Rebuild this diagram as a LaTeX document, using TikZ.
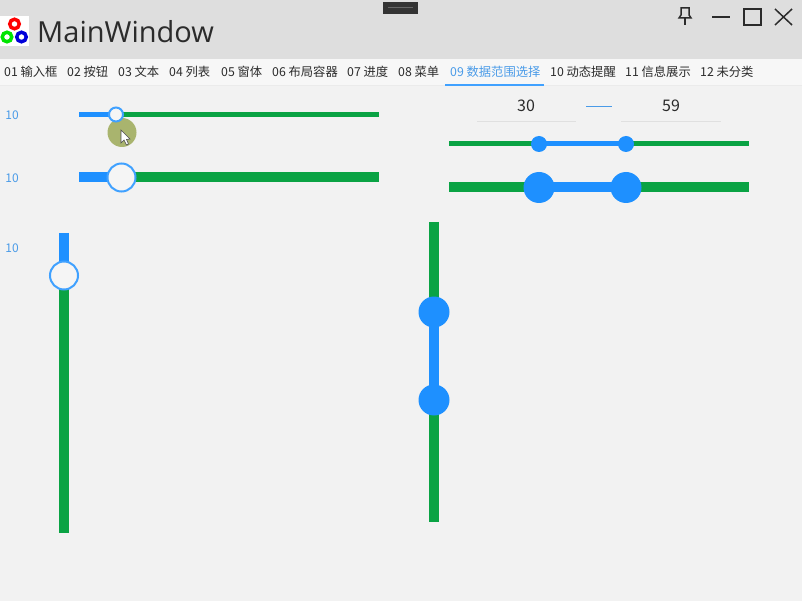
\documentclass[tikz,border=0pt]{standalone}
\usepackage{fontspec}
\setmainfont{Noto Sans CJK SC}
\newfontfamily\titlefont{Open Sans}
\pgfdeclarelayer{knobs}
\pgfsetlayers{main,knobs}
\definecolor{sliderblue}{HTML}{1E90FF}
\definecolor{slidergreen}{HTML}{0AA344}
\definecolor{labelblue}{HTML}{4A9BE8}
\definecolor{inktext}{HTML}{2B2B2B}
\definecolor{pointerglow}{HTML}{A9B46E}
\tikzset{
    tab/.style={anchor=west,inner sep=0pt,font=\fontsize{12.3}{12.3}\selectfont,text=inktext},
    tabactive/.style={tab,text=labelblue},
    valuelabel/.style={inner sep=0pt,font=\fontsize{12}{12}\selectfont,text=labelblue},
    numbertext/.style={inner sep=0pt,font=\fontsize{16}{16}\selectfont,text=inktext},
    bluetrack/.style={draw=sliderblue,line cap=butt},
    greentrack/.style={draw=slidergreen,line cap=butt},
    knobsmall/.style={circle,draw=sliderblue!85!white,fill=black!4,line width=2pt,inner sep=0pt,outer sep=0pt,minimum size=14pt},
    knobbig/.style={circle,draw=sliderblue!85!white,fill=black!4,line width=2pt,inner sep=0pt,outer sep=0pt,minimum size=28pt},
    dotsmall/.style={circle,fill=sliderblue,inner sep=0pt,outer sep=0pt,minimum size=16pt},
    dotbig/.style={circle,fill=sliderblue,inner sep=0pt,outer sep=0pt,minimum size=31pt},
    icon/.style={line width=1.5pt,draw=inktext},
    ring/.style={circle,draw,line width=3.5pt,inner sep=0pt,minimum size=9.5pt}
}
\begin{document}
\begin{tikzpicture}[x=1pt,y=-1pt]
    \useasboundingbox (0,0) rectangle (802,601);
    % window bands
    \fill[black!5] (0,0) rectangle (802,601);
    \fill[black!13] (0,0) rectangle (802,59);
    \fill[black!3] (0,59) rectangle (802,85);
    \draw[black!8] (0,85.5) -- (802,85.5);
    \fill[black!80] (383,2) rectangle (418,14);
    \draw[black!60,line width=1pt] (388,8) -- (413,8);

    % logo
    \fill[white] (0,16) rectangle (29,46);
    \node[ring,draw=red] (ringred) at (14.5,24) {};
    \node[ring,draw=green!90!black] (ringgreen) at (7,37) {};
    \node[ring,draw=blue!85!black] (ringblue) at (21.5,37) {};

    \node[anchor=west,inner sep=0pt,font=\titlefont\fontsize{29}{30}\selectfont,text=inktext] (title) at (37,32) {MainWindow};

    % title bar buttons
    \draw[icon] (681,8) -- (689,8) -- (689,15) -- (691,18) -- (679,18) -- (681,15) -- cycle;
    \draw[icon] (685,18) -- (685,25);
    \draw[icon] (712,17) -- (730,17);
    \draw[icon] (744,9) rectangle (761,25);
    \draw[icon] (775,9) -- (792,25);
    \draw[icon] (792,9) -- (775,25);

    % tabs
    \node[tab] (taba) at (4,72) {01 输入框};
    \node[tab] (tabb) at (67,72) {02 按钮};
    \node[tab] (tabc) at (118,72) {03 文本};
    \node[tab] (tabd) at (169,72) {04 列表};
    \node[tab] (tabe) at (221,72) {05 窗体};
    \node[tab] (tabf) at (272,72) {06 布局容器};
    \node[tab] (tabg) at (347,72) {07 进度};
    \node[tab] (tabh) at (398,72) {08 菜单};
    \node[tabactive] (tabi) at (450,72) {09 数据范围选择};
    \node[tab] (tabj) at (550,72) {10 动态提醒};
    \node[tab] (tabk) at (625,72) {11 信息展示};
    \node[tab] (tabl) at (700,72) {12 未分类};
    \draw[sliderblue!85!white,line width=1.3pt] (445,85) -- (544,85);

    % value labels
    \node[valuelabel] (labela) at (12,115) {10};
    \node[valuelabel] (labelb) at (12,178) {10};
    \node[valuelabel] (labelc) at (12,248) {10};

    % range inputs
    \node[numbertext] (lowvalue) at (526,106) {30};
    \node[numbertext] (highvalue) at (671,106) {59};
    \draw[black!12] (477,121.5) -- (576,121.5);
    \draw[black!12] (621,121.5) -- (721,121.5);
    \coordinate (dasha) at (586,107);
    \coordinate (dashb) at (612,107);
    \draw[labelblue,line width=1pt] (dasha) -- (dashb);

    % mouse pointer
    \fill[pointerglow] (122,132.5) circle (14.5);
    \draw[black!70,fill=white,line width=0.6pt] (121,130) -- (121,143) -- (124,140) -- (126.5,145) -- (128.5,144) -- (126.5,139.5) -- (130,139) -- cycle;

    % knobs
    \begin{pgfonlayer}{knobs}
    \node[knobsmall] (haknob) at (116,114.5) {};
    \node[knobbig] (hbknob) at (121.5,177.5) {};
    \node[knobbig] (vaknob) at (64,275.5) {};
    \node[dotsmall] (ralow) at (539,144) {};
    \node[dotsmall] (rahigh) at (626,144) {};
    \node[dotbig] (rblow) at (539,187.5) {};
    \node[dotbig] (rbhigh) at (626,187.5) {};
    \node[dotbig] (vblow) at (434,312) {};
    \node[dotbig] (vbhigh) at (434,400) {};
    \end{pgfonlayer}

    % single sliders
    \coordinate (hastart) at (79,114.5);
    \coordinate (haend) at (379,114.5);
    \draw[bluetrack,line width=5pt] (hastart) -- (haknob.center);
    \draw[greentrack,line width=5pt] (haknob.center) -- (haend);

    \coordinate (hbstart) at (79,177.5);
    \coordinate (hbend) at (379,177.5);
    \draw[bluetrack,line width=10pt] (hbstart) -- (hbknob.center);
    \draw[greentrack,line width=10pt] (hbknob.center) -- (hbend);

    \coordinate (vastart) at (64,233);
    \coordinate (vaend) at (64,533);
    \draw[bluetrack,line width=10pt] (vastart) -- (vaknob.center);
    \draw[greentrack,line width=10pt] (vaknob.center) -- (vaend);

    % range sliders
    \coordinate (rastart) at (449,144);
    \coordinate (raend) at (749,144);
    \draw[greentrack,line width=5pt] (rastart) -- (ralow.center);
    \draw[bluetrack,line width=5pt] (ralow.center) -- (rahigh.center);
    \draw[greentrack,line width=5pt] (rahigh.center) -- (raend);

    \coordinate (rbstart) at (449,187.5);
    \coordinate (rbend) at (749,187.5);
    \draw[greentrack,line width=10pt] (rbstart) -- (rblow.center);
    \draw[bluetrack,line width=10pt] (rblow.center) -- (rbhigh.center);
    \draw[greentrack,line width=10pt] (rbhigh.center) -- (rbend);

    \coordinate (vbstart) at (434,222);
    \coordinate (vbend) at (434,522);
    \draw[greentrack,line width=10pt] (vbstart) -- (vblow.center);
    \draw[bluetrack,line width=10pt] (vblow.center) -- (vbhigh.center);
    \draw[greentrack,line width=10pt] (vbhigh.center) -- (vbend);
\end{tikzpicture}
\end{document}
